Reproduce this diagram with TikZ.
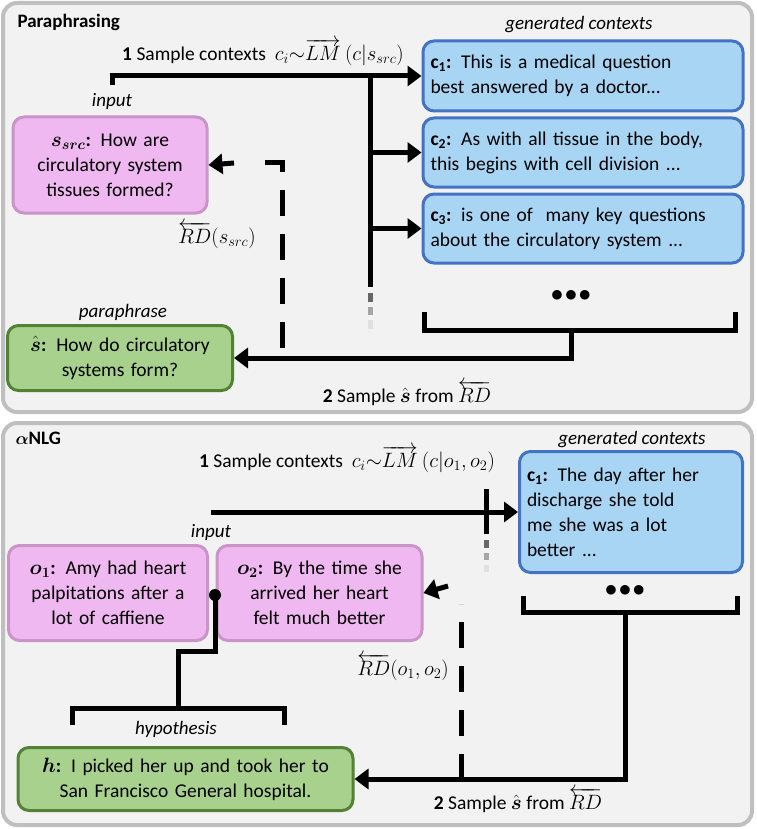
\documentclass[tikz,border=0pt]{standalone}
\usepackage{amsmath}
\usepackage{fontspec}
\setmainfont{Carlito}
\usetikzlibrary{arrows.meta}
\definecolor{panelfill}{HTML}{F2F2F2}
\definecolor{panelline}{HTML}{BFBFBF}
\definecolor{bfill}{HTML}{A9D5F5}
\definecolor{bline}{HTML}{4472C4}
\definecolor{pfill}{HTML}{F0B8F0}
\definecolor{pline}{HTML}{C994C8}
\definecolor{gfill}{HTML}{A9D18E}
\definecolor{gline}{HTML}{538135}
\begin{document}
\begin{tikzpicture}[x=1pt,y=-1pt,
  every node/.style={font=\fontsize{19.5}{25}\selectfont},
  panel/.style={fill=panelfill,draw=panelline,line width=4pt,rounded corners=14pt},
  box/.style={rounded corners=11pt,line width=3pt,inner sep=3pt},
  bbox/.style={box,fill=bfill,draw=bline,align=left},
  pbox/.style={box,fill=pfill,draw=pline,align=center},
  gbox/.style={box,fill=gfill,draw=gline,align=center},
  conn/.style={line width=5pt},
  arr/.style={conn,-{Triangle[length=14pt,width=20pt]}},
  dashline/.style={line width=5pt,dash pattern=on 26pt off 18pt},
  lab/.style={font=\fontsize{19}{22}\selectfont\itshape},
  ttl/.style={font=\fontsize{19}{22}\selectfont\bfseries,anchor=west}]
\useasboundingbox (0,0) rectangle (756,829);
\draw[panel] (3,3) rectangle (752,412);
\draw[panel] (3,423) rectangle (752,825);
% ---------- top panel
\node[ttl] (t1) at (14,22) {Paraphrasing};
\node[lab] (g1) at (579,25) {generated contexts};
\node (s1) at (263,52) {\textbf{1} Sample contexts \ $c_i{\sim}\overrightarrow{LM}\ (c|s_{src})$};
\node[bbox,minimum width=320pt,minimum height=70pt,text width=305pt] (c1) at (583,76) {\textbf{c$_\mathbf{1}$:} This is a medical question\\best answered by a doctor...};
\node[bbox,minimum width=320pt,minimum height=69pt,text width=305pt] (c2) at (583,152.5) {\textbf{c$_\mathbf{2}$:} As with all tissue in the body,\\this begins with cell division ...};
\node[bbox,minimum width=320pt,minimum height=69pt,text width=305pt] (c3) at (583,228.5) {\textbf{c$_\mathbf{3}$:} is one of \ many key questions\\about the circulatory system ...};
\node[lab] (in1) at (112,101) {input};
\node[pbox,minimum width=194pt,minimum height=96pt,text width=185pt] (src) at (110,165) {$\boldsymbol{s_{src}}$\textbf{:} How are\\circulatory system\\tissues formed?};
\node (rd1) at (217,235) {$\overleftarrow{RD}(s_{src})$};
\node (dots1) at (571,296) {\fontsize{30}{30}\selectfont\textbf{$\bullet\!\bullet\!\bullet$}};
\node[lab] (pp) at (123,312) {paraphrase};
\node[gbox,minimum width=225pt,minimum height=65pt,text width=215pt] (sh) at (120,358) {$\hat{\boldsymbol{s}}$\textbf{:} How do circulatory\\systems form?};
\node (s2) at (407,393) {\textbf{2} Sample $\hat{\boldsymbol{s}}$ from $\overleftarrow{RD}$};
\coordinate (st1) at (112,85);
\coordinate (tr1) at (370,73);
\coordinate (tr1b) at (370,287);
\draw[arr] (st1) |- (c1.west);
\draw[conn] (tr1) -- (tr1b);
\draw[arr] (c2.west -| tr1) -- (c2.west);
\draw[arr] (c3.west -| tr1) -- (c3.west);
\fill[black!60] (367.5,293) rectangle (372.5,302);
\fill[black!35] (367.5,307) rectangle (372.5,315);
\fill[black!12] (367.5,320) rectangle (372.5,329);
\coordinate (bl1) at (424,312);
\coordinate (br1) at (735,312);
\coordinate (bm1) at (571,330);
\draw[conn] (bl1) -- (424,330) -- (735,330) -- (br1);
\draw[arr] (bm1) |- (sh.east);
\coordinate (d1) at (282,348);
\draw[dashline] (d1) -- (282,163) -- (262,163);
\draw[arr] (234,163) -- (src.east);
% ---------- bottom panel
\node[ttl] (t2) at (12,438) {$\boldsymbol{\alpha}$NLG};
\node[lab] (g2) at (632,440) {generated contexts};
\node (s3) at (347,459) {\textbf{1} Sample contexts \ $c_i{\sim}\overrightarrow{LM}\ (c|o_1,o_2)$};
\node[bbox,minimum width=223pt,minimum height=121pt,text width=208pt] (d1c) at (631,512) {\textbf{c$_\mathbf{1}$:} The day after her\\discharge she told\\me she was a lot\\better ...};
\node[lab] (in2) at (211,532) {input};
\node[pbox,minimum width=199pt,minimum height=95pt,text width=190pt] (o1) at (108,593) {$\boldsymbol{o_1}$\textbf{:} Amy had heart\\palpitations after a\\lot of caffiene};
\node[pbox,minimum width=205pt,minimum height=95pt,text width=196pt] (o2) at (319.5,593) {$\boldsymbol{o_2}$\textbf{:} By the time she\\arrived her heart\\felt much better};
\node (rd2) at (403,667) {$\overleftarrow{RD}(o_1,o_2)$};
\node (dots2) at (625,591) {\fontsize{30}{30}\selectfont\textbf{$\bullet\!\bullet\!\bullet$}};
\node[lab] (hy) at (176,729) {hypothesis};
\node[gbox,minimum width=335pt,minimum height=63pt,text width=325pt] (h) at (185.5,779) {$\boldsymbol{h}$\textbf{:} I picked her up and took her to\\San Francisco General hospital.};
\node (s4) at (518,800) {\textbf{2} Sample $\hat{\boldsymbol{s}}$ from $\overleftarrow{RD}$};
\coordinate (st2) at (211,512);
\coordinate (tr2) at (486,489);
\coordinate (tr2b) at (486,534);
\draw[arr] (st2) |- (d1c.west);
\draw[conn] (tr2) -- (tr2b);
\fill[black!60] (483.5,540) rectangle (488.5,548);
\fill[black!35] (483.5,553) rectangle (488.5,560);
\fill[black!12] (483.5,565) rectangle (488.5,572);
\coordinate (dot) at (215,595);
\fill (dot) circle (6pt);
\coordinate (hb) at (178,706);
\draw[conn] (dot) -- (215,651) -- (178,651) -- (hb);
\draw[conn] (72,725) -- (72,708) -- (284,708) -- (284,725);
\coordinate (bm2) at (625,612);
\draw[conn] (523,596) -- (523,612) -- (737,612) -- (737,596);
\draw[arr] (bm2) |- (h.east);
\coordinate (d2) at (461,780);
\draw[dashline] (d2) -- (461,604);
\draw[arr] (448,586) -- (o2.east);
\end{tikzpicture}
\end{document}
